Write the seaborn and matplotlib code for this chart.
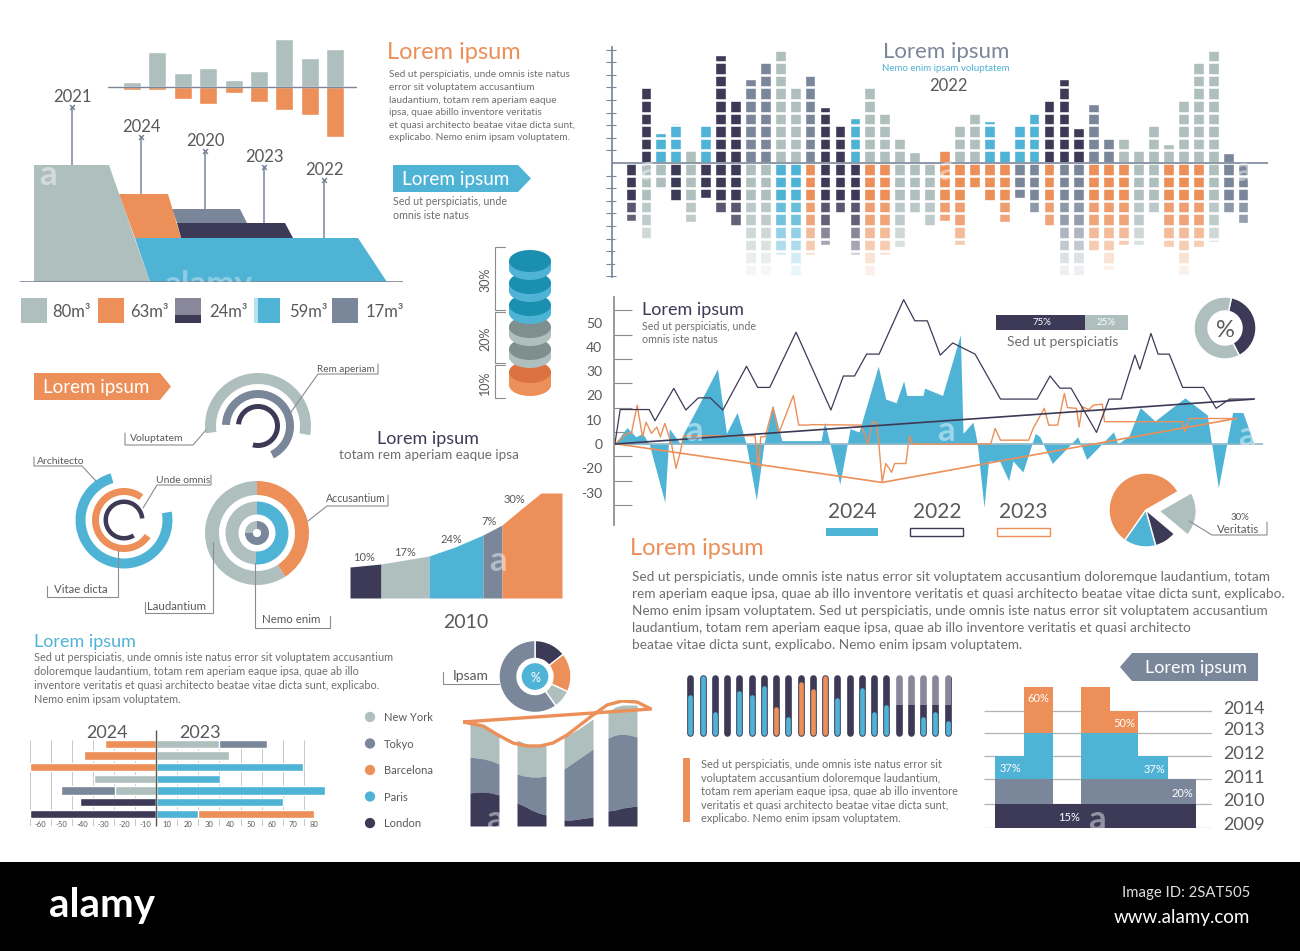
import matplotlib
matplotlib.use("Agg")
from matplotlib import pyplot as plt
from matplotlib.patches import Wedge, Rectangle, Ellipse, Polygon, Circle
import numpy as np
import seaborn as sns

W, H = 1300, 951

GREY = "#aebfbe"
ORANGE = "#ec8f58"
NAVY = "#3c3a57"
BLUE = "#4fb3d6"
SLATE = "#7a8699"
TEXT = "#6d6e71"
DARK = "#58595b"
key = {"g": GREY, "o": ORANGE, "n": NAVY, "b": BLUE, "s": SLATE}

# top left up / down bars
updown_pos = [5, 35, 14, 19, 7, 16, 48, 29, 38]
updown_neg = [-3, -3, -12, -17, -6, -15, -23, -28, -50]

# stepped mountain
ridge_grey_x, ridge_grey_h = [14, 14, 89, 130], [0, 117, 117, 0]
ridge_orange_x, ridge_orange_h = [99, 148, 161, 115], [88, 88, 44, 44]
ridge_slate_x, ridge_slate_h = [152, 220, 227, 157], [73, 73, 59, 59]
ridge_navy_x, ridge_navy_h = [157, 265, 273, 161], [59, 59, 44, 44]
ridge_blue_x, ridge_blue_h = [115, 338, 367, 130], [44, 44, 0, 0]
pin_years = ["2021", "2024", "2020", "2023", "2022"]
pin_x = [52, 121, 185, 244, 304]
pin_low = [117, 88, 73, 59, 44]
pin_top = [175, 145, 131, 115, 102]
volume_labels = ["80m³", "63m³", "24m³", "59m³", "17m³"]

# equalizer columns, counted in cells
heat_up = [0, 6, 2.4, 3.2, 1.1, 3, 8.6, 5, 6.7, 8, 9, 6, 7, 4.4, 3, 3.6, 6, 4, 2, 0.9, 0,
           1, 3, 4, 3.3, 1.1, 3, 4, 5, 6.7, 2.8, 4.7, 2, 2, 1, 3, 1.5, 5, 8, 9, 0.8, 0]
heat_up_group = "nnbbgbnnssggsnnbggggg" "oggbbbbnnnssggggggg" "ss"
heat_down = [4.6, 6, 2.1, 3, 4.7, 2.8, 4, 5, 9, 9, 7.3, 9, 7.3, 6.5, 4, 7.3, 9, 7.3, 6.7, 4, 5,
             4.6, 6.5, 2, 3, 4.7, 2.8, 4, 5, 9, 9, 7, 8.5, 6.5, 6.5, 4, 6.7, 9, 6.7, 6.3, 4, 4.8]
heat_down_group = "nggngnnnggbbonnnooggg" "ooooossossooo" "ggooogss"
heat_fade = [0, 0, 0, 0.15, 0.2, 0.4, 0.55, 0.75, 0.88]

# line chart
area_x = [78, 105, 125, 140, 155, 190, 200, 225, 232, 260, 308, 328, 352, 372, 395, 412, 432, 452, 540,
          548, 582, 605, 625, 668, 685, 708, 725, 732, 768, 772, 812, 852, 858, 880, 885, 890, 905, 915,
          940, 960, 970, 992, 1020, 1030, 1058, 1115, 1135, 1195, 1205, 1230, 1255, 1288, 1355, 1405,
          1430, 1462, 1485, 1510]
area_y = [0, 6.8, 3, 4.4, 0, -24, 6.4, 0, 4.4, 14, 31, 4.4, 13, 0, -23, 0, 16, 1.4, 1.4,
          9, -16.5, 6.3, 5, 32, 18.5, 17, 26, 20, 20, 23, 20, 45, 4.4, 9, 5, 0, -26, -7,
          -7, -15, -7, -11.5, 4.4, 3, -8, 3, -6.3, 5, 0, 3.5, 15, 9.5, 19, 12,
          -18, 13, 13, 0]
black_x = [78, 90, 155, 168, 210, 237, 265, 292, 320, 373, 398, 425, 484, 562, 590, 615, 642, 670, 725, 750,
           778, 807, 835, 885, 942, 1024, 1053, 1075, 1100, 1157, 1185, 1212, 1243, 1254, 1279, 1295, 1320,
           1350, 1397, 1425, 1455, 1510]
black_y = [0, 14.2, 14.2, 9.6, 22.9, 14, 19, 19, 14, 32, 23.3, 23.3, 46, 14, 28, 28, 37, 37, 59.4, 50.7,
           50.7, 36.6, 41.6, 37, 18.5, 18.5, 28, 23, 23, 4.8, 18.5, 18.5, 36.6, 30.8, 45.5, 37, 37,
           23.3, 23.3, 14.7, 18.5, 18.5]
black_trend_x, black_trend_y = [78, 1510], [0, 18.5]
orange_x = [78, 105, 115, 128, 140, 148, 160, 172, 180, 190, 205, 215, 225, 232, 370, 392, 400, 405, 415, 432,
            445, 478, 490, 510, 520, 630, 645, 655, 665, 677, 685, 698, 705, 730, 738, 745, 920, 930, 942,
            1005, 1015, 1040, 1050, 1070, 1085, 1092, 1112, 1118, 1125, 1140, 1150, 1170, 1175, 1350, 1355,
            1365, 1470]
orange_y = [0, 4.4, 4.4, 16, 3, 9, 4.4, 7, 3, 8.5, 0, -10, -3, 3.4, 3.4, 3.4, -10, 3, 3, 15,
            4.4, 20, 7.8, 7.8, 8, 7.8, 0, 9, 9, -15.6, -8, -11.6, -8, -8, 3.4, 0, 0, 6.4, 1.6,
            1.6, 6.4, 14.7, 7.8, 7.8, 20.8, 15, 14.7, 7, 15.3, 14.2, 16, 16.4, 9.2, 9.2, 5,
            10.5, 10.5]
orange_trend_x, orange_trend_y = [85, 677, 1150, 1470], [0, -15.8, 0, 10.5]
line_label_pos = [50, 40, 30, 20, 10, 0, -10, -20]
line_labels = ["50", "40", "30", "20", "10", "0", "-20", "-30"]
line_ticks = [55, 45, 35, 25, 15, 5, -5, -15, -25]

# pies
donut_values = [39, 61]
pie_values = [19.4, 57, 14, 9.6]
ipsam_values = [14.4, 17.5, 8.3, 59.8]

# arcs: start, end, outer radius, width, colour group
arcs_a_start, arcs_a_end = [-10, -64, -105], [188, 178, 175]
arcs_a_r, arcs_a_w, arcs_a_group = [53, 36, 22], [11, 8, 5], "gsn"
arcs_b_start, arcs_b_end = [106, 53, 5], [370, 326, 302]
arcs_b_r, arcs_b_w, arcs_b_group = [48.5, 32, 20.5], [10, 7, 4.5], "bon"
arcs_c_start, arcs_c_end = [90, -57, 90, -93, 90, 180], [303, 90, 267, 90, 180, 450]
arcs_c_r, arcs_c_w, arcs_c_group = [52, 52, 31.5, 31.5, 12, 12], [14, 14, 13, 13, 8, 8], "gogbgs"

# growth area
growth_x = [0, 31, 55, 79, 105, 133, 152, 170, 191, 212]
growth_h = [31, 34, 38, 42, 51, 63, 73, 88, 105, 105]
growth_cut = [0, 31, 79, 133, 152, 212]
growth_labels = ["10%", "17%", "24%", "7%", "30%"]

# butterfly bars
cities = ["New York", "Tokyo", "Barcelona", "Paris", "London"]
city_group = "gsobn"
right_outer = [52.6, 34.6, 69.4, 30.4, 80, 60, 75]
right_outer_group = "sgbbbbo"
right_inner = [30, 0, 0, 0, 0, 0, 20]
right_inner_group = "ggggggb"
left_outer = [-24.4, -34, -60, -29.6, -45, -36, -60]
left_outer_group = "ooogsnn"
left_inner = [0, 0, 0, 0, -19.6, 0, 0]
left_inner_group = "oooogoo"
butterfly_ticks = ["-60", "-50", "-40", "-30", "-20", "-10", "10", "20", "30", "40", "50", "60", "70", "80"]

# wavy columns
wave_t = [0, 0.25, 0.5, 0.75, 1]
wave_start = [7, 54, 101, 145]
wave_top = [[102, 102, 101, 97, 91], [86, 83, 81, 81, 82], [89, 93, 97, 102, 107], [114, 119, 121, 121, 121]]
wave_mid = [[69, 68, 67, 65, 62], [52, 50, 49, 49, 50], [57, 62, 67, 72, 77], [88, 91, 92, 91, 89]]
wave_low = [[33, 34, 34, 33, 31], [23, 20, 16, 13, 11], [6, 6, 7, 8, 9], [15, 16, 18, 19, 20]]
swoop_x = [0, 20, 35, 50, 64, 77, 90, 104, 117, 130, 144, 159, 174, 188, 0]
swoop_h = [104, 100, 91, 83, 80, 80, 83, 91, 101, 111, 121, 125, 124, 117, 104]

# capsules
capsule_fill = [.65, 1, .35, 0, .73, .65, .81, .43, .25, .9, .77, 1, .6, 0, .78, .35, .47, 0, 0, .25, .35, .18]
capsule_group = "bbbbbbbobooobbbbbbbbbb"

# stepped blocks
step_years = ["2009", "2010", "2011", "2012", "2013", "2014"]
step_edges = [0, 24, 49, 72, 95, 117, 141]
step_left_start = [11, 11, 11, 40, 40, 40]
step_left_end = [212, 69, 69, 69, 69, 69]
step_right_start = [97, 97, 97, 97, 97, 97]
step_right_end = [212, 212, 184, 154, 154, 126]
step_group = "nsbboo"

# stock photo watermark glyphs
mark_x = [48, 694, 946, 1247, 648, 947, 1243, 498, 495, 1097]
mark_y = [172, 428, 428, 433, 167, 167, 168, 558, 817, 817]

sns.set_theme(style="white")
plt.rcParams["font.family"] = ["Lato", "DejaVu Sans"]

fig = plt.figure(figsize=(13, 9.51), dpi=100, facecolor="white")

canvas = fig.add_axes([0, 0, 1, 1], zorder=10)
canvas.set_xlim(0, W)
canvas.set_ylim(H, 0)
canvas.axis("off")
canvas.patch.set_alpha(0)


def panel(x0, y0, x1, y1, visible=False):
    ax = fig.add_axes([x0 / W, 1 - y1 / H, (x1 - x0) / W, (y1 - y0) / H])
    if not visible:
        ax.axis("off")
    return ax


def label(x, y, s, size=8, color=TEXT, ha="left", **kw):
    # Lato sits a little high when centred
    canvas.text(x, y + 0.12 * size, s, fontsize=size, color=color, ha=ha, va="center", **kw)


def block(x, y, lines, size, step, color=TEXT):
    for i, line in enumerate(lines):
        label(x, y + i * step, line, size, color)


def bars(ax, values, group, width):
    ids = [str(i) for i in range(len(values))]
    sns.barplot(x=ids, y=values, hue=ids, palette=[key[g] for g in group], width=width,
                dodge=False, saturation=1, legend=False, orient="x", ax=ax)


def hbars(ax, values, group, width):
    ids = [str(i) for i in range(len(values))]
    sns.barplot(x=values, y=ids, hue=ids, palette=[key[g] for g in group], width=width,
                dodge=False, saturation=1, legend=False, orient="y", ax=ax)


def rings(cx, cy, r, starts, ends, radii, widths, group):
    ax = panel(cx - r, cy - r, cx + r, cy + r)
    ax.set_xlim(-r, r)
    ax.set_ylim(-r, r)
    for a, b, o, w, g in zip(starts, ends, radii, widths, group):
        ax.add_patch(Wedge((0, 0), o, a, b, width=w, color=key[g], lw=0))
    return ax


def leader(xs, ys):
    canvas.plot(xs, ys, color="#8a8c8e", lw=0.8, solid_joinstyle="miter")


# footer
canvas.add_patch(Rectangle((0, 862), W, 89, color="black", lw=0))
label(49, 902, "alamy", 29, "white", fontweight="bold")
label(1250, 892, "Image ID: 2SAT505", 10.7, "#dddddd", ha="right")
label(1250, 916, "www.alamy.com", 13.5, "white", ha="right")

# up / down bars
ax = panel(108, 35, 357, 140)
bars(ax, updown_pos, "g" * 9, 0.71)
bars(ax, updown_neg, "o" * 9, 0.71)
ax.axhline(0, color=SLATE, lw=1)
ax.set_xlim(-0.945, 8.86)
ax.set_ylim(-53, 52)

# mountain
ax = panel(20, 102, 403, 282)
ax.set_xlim(0, 383)
ax.set_ylim(0, 180)
for xs, hs, g in [(ridge_slate_x, ridge_slate_h, SLATE), (ridge_navy_x, ridge_navy_h, NAVY),
                  (ridge_orange_x, ridge_orange_h, ORANGE), (ridge_blue_x, ridge_blue_h, BLUE),
                  (ridge_grey_x, ridge_grey_h, GREY)]:
    ax.fill(xs, hs, color=g, lw=0)
ax.vlines(pin_x, pin_low, pin_top, color=SLATE, lw=1.1)
ax.scatter(pin_x, pin_top, marker="x", s=12, color=SLATE, lw=1.1, clip_on=False)
ax.axhline(0, color=SLATE, lw=1.2)
for x, h, y in zip(pin_x, pin_top, pin_years):
    label(20 + x, 282 - h - 11, y, 12, DARK, ha="center")
for x, tx, g, s in zip([21, 98, 175, 254, 332], [52, 130, 209, 289, 366], "gonbs", volume_labels):
    canvas.add_patch(Rectangle((x, 298), 25.5, 25, color=key[g], lw=0))
    label(tx, 311, s, 12, DARK)
canvas.add_patch(Rectangle((175, 298), 25.5, 17, color="white", alpha=0.4, lw=0))
canvas.add_patch(Rectangle((254, 298), 4, 25, color="white", alpha=0.6, lw=0))
label(208, 282, "alamy", 24, "white", ha="center", fontweight="bold", alpha=0.35)

label(387, 50, "Lorem ipsum", 17, ORANGE)
block(389, 74, ["Sed ut perspiciatis, unde omnis iste natus", "error sit voluptatem accusantium",
                "laudantium, totam rem aperiam eaque", "ipsa, quae abillo inventore veritatis",
                "et quasi architecto beatae vitae dicta sunt,", "explicabo. Nemo enim ipsam voluptatem."], 7.2, 12.6)
canvas.add_patch(Polygon([(393, 165), (518, 165), (531, 178.5), (518, 192), (393, 192)], color=BLUE, lw=0))
label(402, 178, "Lorem ipsum", 13.6, "white")
block(393, 201, ["Sed ut perspiciatis, unde", "omnis iste natus"], 7.7, 14)

# disk stack
ax = panel(505, 245, 555, 400)
ax.set_xlim(0, 50)
ax.set_ylim(0, 155)
for c, thick, side, top in [(28, 13, ORANGE, "#db7240"), (51, 8, GREY, "#7e8f8e"), (73, 8, GREY, "#7e8f8e"),
                            (95, 8, BLUE, "#1a8fb0"), (117, 8, BLUE, "#1a8fb0"), (139, 8, BLUE, "#1a8fb0")]:
    ax.add_patch(Ellipse((25, c - thick), 42, 22, color=side, lw=0))
    ax.add_patch(Rectangle((4, c - thick), 42, thick, color=side, lw=0))
    ax.add_patch(Ellipse((25, c), 42, 22, color=top, lw=0))
for y0, y1, s in [(247, 310, "30%"), (312, 363, "20%"), (365, 398, "10%")]:
    leader([505, 495, 495, 505], [y0, y0, y1, y1])
    label(485, (y0 + y1) / 2, s, 9, DARK, ha="center", rotation=90)

# equalizer
ax = panel(612, 47, 1268, 277, visible=True)
bars(ax, heat_up, heat_up_group, 0.72)
bars(ax, [-v for v in heat_down], heat_down_group, 0.72)
for i, fade in enumerate(heat_fade):
    if fade:
        ax.axhspan(-i - 1, -i, xmin=0.005, color="white", alpha=fade, lw=0, zorder=3)
ax.hlines(np.arange(-9, 10), -1, 43, color="white", lw=1.8, zorder=3)
ax.axhline(0, color=SLATE, lw=1.2, zorder=4)
ax.set_xlim(-1.27, 42.67)
ax.set_ylim(-9.05, 9.2)
sns.despine(ax=ax, bottom=True)
ax.spines["left"].set_color(SLATE)
ax.set_xticks([])
ax.set_yticks([v for v in range(-9, 10) if v])
ax.set_yticklabels([])
ax.tick_params(axis="y", direction="inout", length=8, color=SLATE, width=0.8, left=True)
ax.set(xlabel=None, ylabel=None)
label(946, 50, "Lorem ipsum", 16, SLATE, ha="center")
label(946, 68, "Nemo enim ipsam voluptatem", 7, BLUE, ha="center")
label(948, 85, "2022", 12, DARK, ha="center")

# line chart
ax = panel(613.5, 297, 1263, 525, visible=True)
ax.fill_between(area_x, area_y, 0, color=BLUE, lw=0)
ax.axhline(0, xmin=0, xmax=1, color="#8fb6c6", lw=1.2)
sns.lineplot(x=orange_trend_x, y=orange_trend_y, estimator=None, sort=False, color=ORANGE, lw=1.2, ax=ax)
sns.lineplot(x=orange_x, y=orange_y, estimator=None, sort=False, color=ORANGE, lw=1, ax=ax)
sns.lineplot(x=black_trend_x, y=black_trend_y, estimator=None, sort=False, color=NAVY, lw=1.2, ax=ax)
sns.lineplot(x=black_x, y=black_y, estimator=None, sort=False, color=NAVY, lw=0.9, ax=ax)
ax.set_xlim(75, 1530)
ax.set_ylim(-33.3, 60.5)
sns.despine(ax=ax, bottom=True)
ax.spines["left"].set_color("#8a8c8e")
ax.set_xticks([])
ax.set_yticks(line_label_pos)
ax.set_yticklabels(line_labels, fontsize=10, color=DARK)
ax.set_yticks(line_ticks, minor=True)
ax.tick_params(axis="y", which="major", length=0, pad=8, left=False)
ax.tick_params(axis="y", which="minor", length=13, direction="in", color="#8a8c8e", width=0.8, left=True)
ax.set(xlabel=None, ylabel=None)
label(642, 308, "Lorem ipsum", 13, NAVY)
block(642, 326, ["Sed ut perspiciatis, unde", "omnis iste natus"], 7.7, 13)
for cx, s in zip([852, 937, 1023], ["2024", "2022", "2023"]):
    label(cx, 510, s, 15, DARK, ha="center")
canvas.add_patch(Rectangle((825.5, 528), 52.5, 8, color=BLUE, lw=0))
canvas.add_patch(Rectangle((910, 528), 53, 8, fc="white", ec=NAVY, lw=1))
canvas.add_patch(Rectangle((997, 528), 53, 8, fc="white", ec=ORANGE, lw=1))
canvas.add_patch(Rectangle((996, 315), 89, 15, color=NAVY, lw=0))
canvas.add_patch(Rectangle((1085, 315), 43, 15, color=GREY, lw=0))
label(1042, 322, "75%", 7, "white", ha="center")
label(1106, 322, "25%", 7, "white", ha="center")
label(1063, 341, "Sed ut perspiciatis", 10, TEXT, ha="center")

ax = panel(1194, 297, 1256, 359)
ax.pie(donut_values, colors=[NAVY, GREY], startangle=78, counterclock=False, wedgeprops=dict(width=0.45))
ax.set_xlim(-1, 1)
ax.set_ylim(-1, 1)
label(1225, 328, "%", 17, DARK, ha="center")

ax = panel(1086, 450, 1206, 570)
ax.pie(pie_values, colors=[GREY, ORANGE, BLUE, NAVY], startangle=-40, explode=[0.36, 0, 0, 0])
ax.set_xlim(-60 / 37, 60 / 37)
ax.set_ylim(-60 / 37, 60 / 37)
leader([1189, 1212, 1267, 1267], [521, 535, 535, 522])
label(1240, 517, "30%", 7, DARK, ha="center")
label(1238, 529, "Veritatis", 8.2, DARK, ha="center")

label(630, 546, "Lorem ipsum", 17, ORANGE)
block(632, 576, ["Sed ut perspiciatis, unde omnis iste natus error sit voluptatem accusantium doloremque laudantium, totam",
                 "rem aperiam eaque ipsa, quae ab illo inventore veritatis et quasi architecto beatae vitae dicta sunt, explicabo.",
                 "Nemo enim ipsam voluptatem. Sed ut perspiciatis, unde omnis iste natus error sit voluptatem accusantium",
                 "laudantium, totam rem aperiam eaque ipsa, quae ab illo inventore veritatis et quasi architecto",
                 "beatae vitae dicta sunt, explicabo. Nemo enim ipsam voluptatem."], 9.85, 17)

# rings
canvas.add_patch(Polygon([(34, 373), (160, 373), (171, 386.5), (160, 400), (34, 400)], color=ORANGE, lw=0))
label(43, 386, "Lorem ipsum", 13.5, "white")
rings(258, 426, 55, arcs_a_start, arcs_a_end, arcs_a_r, arcs_a_w, arcs_a_group)
rings(124, 520, 50, arcs_b_start, arcs_b_end, arcs_b_r, arcs_b_w, arcs_b_group)
ax = rings(257, 533, 54, arcs_c_start, arcs_c_end, arcs_c_r, arcs_c_w, arcs_c_group)
ax.add_patch(Circle((0, 0), 4, color="white", lw=0))

leader([378, 378, 318, 291], [364, 374, 374, 412])
label(317, 369, "Rem aperiam", 7.2, DARK)
leader([125, 125, 193, 206], [433, 445, 445, 430])
label(130, 438, "Voluptatem", 7.5, DARK)
leader([34, 34, 82, 96], [457, 466, 466, 481])
label(37, 461, "Architecto", 7.5, DARK)
leader([211, 211, 157, 143], [475, 485, 485, 508])
label(156, 480, "Unde omnis", 7.5, DARK)
leader([47, 47, 118, 118], [586, 597, 597, 550])
label(54, 589, "Vitae dicta", 8.2, DARK)
leader([388, 388, 327, 308], [495, 506, 506, 521])
label(326, 498, "Accusantium", 7.6, DARK)
leader([145, 145, 213, 213], [602, 613, 613, 542])
label(147, 606, "Laudantium", 8.3, DARK)
leader([330, 330, 255, 255], [616, 628, 628, 563])
label(262, 619, "Nemo enim", 8.3, DARK)

label(428, 437, "Lorem ipsum", 13, NAVY, ha="center")
label(429, 454, "totam rem aperiam eaque ipsa", 9.7, TEXT, ha="center")

# growth area
ax = panel(350, 490, 562, 598)
ax.set_xlim(0, 212)
ax.set_ylim(0, 108)
for a, b, g in zip(growth_cut[:-1], growth_cut[1:], [NAVY, GREY, BLUE, SLATE, ORANGE]):
    xs = [v for v in growth_x if a <= v <= b]
    ax.fill_between(xs, np.interp(xs, growth_x, growth_h), 0, color=g, lw=0)
for (x, y), s in zip([(364, 557), (405, 552), (451, 539), (489, 521), (514, 499)], growth_labels):
    label(x, y, s, 8, DARK, ha="center")
label(466, 621, "2010", 14, DARK, ha="center")

# bottom left text and butterfly
label(34, 640, "Lorem ipsum", 13, BLUE)
block(34, 657, ["Sed ut perspiciatis, unde omnis iste natus error sit voluptatem accusantium",
                "doloremque laudantium, totam rem aperiam eaque ipsa, quae ab illo",
                "inventore veritatis et quasi architecto beatae vitae dicta sunt, explicabo.",
                "Nemo enim ipsam voluptatem."], 7.85, 13.8)

ax = panel(29.5, 740, 325, 826)
hbars(ax, right_outer, right_outer_group, 0.72)
hbars(ax, right_inner, right_inner_group, 0.72)
hbars(ax, left_outer, left_outer_group, 0.72)
hbars(ax, left_inner, left_inner_group, 0.72)
ax.set_xlim(-60, 80)
ax.set_ylim(7.04, -0.34)
ax.vlines(np.arange(-60, 81, 10), -0.34, 7.04, color="#c5c7c9", lw=0.7, zorder=0)
ax.vlines(0, -1.2, 7.04, color=DARK, lw=1, clip_on=False, zorder=5)
for v, s in zip(list(np.arange(-55, 0, 10)) + list(np.arange(5, 80, 10)), butterfly_ticks):
    label(29.5 + (v + 60) * 2.11, 824, s, 5.5, DARK, ha="center")
label(107, 731, "2024", 13, DARK, ha="center")
label(200, 731, "2023", 13, DARK, ha="center")

ax = panel(360, 705, 380, 835)
ax.scatter([0] * 5, [0, 1, 2, 3, 4], s=55, c=[key[g] for g in city_group], lw=0)
ax.set_xlim(-1, 1)
ax.set_ylim(4.45, -0.45)
for i, c in enumerate(cities):
    label(384, 717 + i * 26.5, c, 8, DARK)

# ipsam donut
ax = panel(499, 640.5, 571, 712.5)
ax.pie(ipsam_values, colors=[NAVY, ORANGE, GREY, SLATE], startangle=90, counterclock=False, wedgeprops=dict(width=0.5))
ax.add_patch(Circle((0, 0), 0.37, color=BLUE, lw=0))
ax.set_xlim(-1, 1)
ax.set_ylim(-1, 1)
label(535, 677, "%", 9, "white", ha="center")
leader([443, 443, 499], [672, 684, 684])
label(453, 675, "Ipsam", 10, DARK)

# wavy columns
ax = panel(463, 700, 652, 826)
ax.set_xlim(0, 189)
ax.set_ylim(0, 126)
for s, top, mid, low in zip(wave_start, wave_top, wave_mid, wave_low):
    xs = [s + t * 29 for t in wave_t]
    ax.fill_between(xs, top, mid, color=GREY, lw=0)
    ax.fill_between(xs, mid, low, color=SLATE, lw=0)
    ax.fill_between(xs, low, 0, color=NAVY, lw=0)
sns.lineplot(x=swoop_x, y=swoop_h, estimator=None, sort=False, color=ORANGE, lw=2.4, ax=ax)
ax.set(xlabel=None, ylabel=None)
ax.axis("off")

# capsules
ax = panel(684, 678, 953, 733)
ax.set_xlim(684, 953)
ax.set_ylim(0, 1)
cap_x = [690.4 + 12.25 * i for i in range(len(capsule_fill))]
ax.vlines(cap_x, 0, 1, color=NAVY, lw=4.8, capstyle="round", clip_on=False)
for x, f, g in zip(cap_x, capsule_fill, capsule_group):
    if f:
        ax.vlines(x, 0, f, color=key[g], lw=3.4, capstyle="round", clip_on=False)
canvas.add_patch(Rectangle((893, 672), 58, 33, color="white", alpha=0.4, lw=0))

canvas.add_patch(Rectangle((683, 758), 7, 64, color=ORANGE, lw=0))
block(701, 764, ["Sed ut perspiciatis, unde omnis iste natus error sit", "voluptatem accusantium doloremque laudantium,",
                 "totam rem aperiam eaque ipsa, quae ab illo inventore", "veritatis et quasi architecto beatae vitae dicta sunt,",
                 "explicabo. Nemo enim ipsam voluptatem."], 7.9, 13.5)

# stepped blocks
canvas.add_patch(Polygon([(1120, 667), (1132, 653), (1258, 653), (1258, 681), (1132, 681)], color=SLATE, lw=0))
label(1196, 666, "Lorem ipsum", 13, "white", ha="center")
ax = panel(984, 687, 1212, 828)
ax.set_xlim(0, 228)
ax.set_ylim(0, 141)
ax.hlines(step_edges[:-1], 0, 228, color="#b0b2b4", lw=0.9, zorder=0)
bottoms, heights = step_edges[:-1], np.diff(step_edges)
colors = [key[g] for g in step_group]
ax.barh(bottoms, np.subtract(step_left_end, step_left_start), height=heights, left=step_left_start,
        align="edge", color=colors, lw=0)
ax.barh(bottoms, np.subtract(step_right_end, step_right_start), height=heights, left=step_right_start,
        align="edge", color=colors, lw=0)
for y, s in zip([823, 799, 776, 752, 728, 707], step_years):
    label(1223, y, s, 13, DARK)
for x, y, s in [(1038, 698, "60%"), (1124, 723, "50%"), (1010, 768, "37%"), (1154, 769, "37%"),
                (1182, 793, "20%"), (1069, 817, "15%")]:
    label(x, y, s, 8, "white", ha="center")

for x, y in zip(mark_x, mark_y):
    label(x, y, "a", 25, "white", ha="center", fontweight="bold", alpha=0.45)

fig.savefig("out.png", dpi=100)
